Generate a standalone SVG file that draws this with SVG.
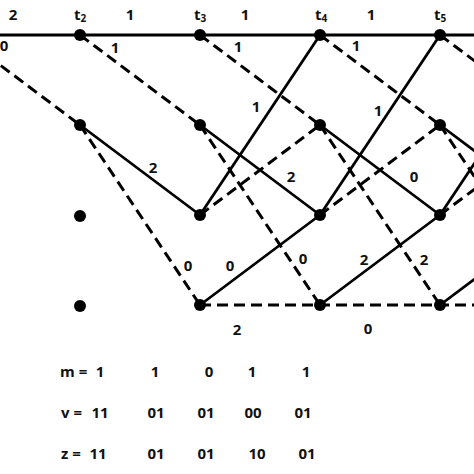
<svg xmlns="http://www.w3.org/2000/svg" width="474" height="474" viewBox="0 0 474 474">
<style>
.s{stroke:#000;stroke-width:2.8;fill:none}
.d{stroke:#000;stroke-width:3;fill:none;stroke-dasharray:11 6}
.n{fill:#000}
text{font-family:"Open Sans","Liberation Sans",sans-serif;font-weight:bold;font-size:15px;fill:#111;text-anchor:middle}
.l{text-anchor:start}
.sub{font-size:10px}
</style>
<rect width="474" height="474" fill="#fff"/>
<g id="connectors">
<line class="s" x1="-40" y1="35" x2="560" y2="35"/>
<line class="d" x1="-40" y1="35" x2="80" y2="125"/>
<line class="d" x1="80" y1="35" x2="200" y2="125"/>
<line class="d" x1="200" y1="35" x2="320" y2="125"/>
<line class="d" x1="320" y1="35" x2="440" y2="125"/>
<line class="d" x1="440" y1="35" x2="560" y2="125"/>
<line class="s" x1="80" y1="125" x2="200" y2="215"/>
<line class="s" x1="200" y1="125" x2="320" y2="215"/>
<line class="s" x1="320" y1="125" x2="440" y2="215"/>
<line class="s" x1="440" y1="125" x2="560" y2="215"/>
<line class="d" x1="80" y1="125" x2="200" y2="305"/>
<line class="d" x1="200" y1="125" x2="320" y2="305"/>
<line class="d" x1="320" y1="125" x2="440" y2="305"/>
<line class="d" x1="440" y1="125" x2="560" y2="305"/>
<line class="s" x1="200" y1="215" x2="320" y2="35"/>
<line class="s" x1="320" y1="215" x2="440" y2="35"/>
<line class="s" x1="440" y1="215" x2="560" y2="35"/>
<line class="d" x1="200" y1="215" x2="320" y2="125"/>
<line class="d" x1="320" y1="215" x2="440" y2="125"/>
<line class="d" x1="440" y1="215" x2="560" y2="125"/>
<line class="s" x1="200" y1="305" x2="320" y2="215"/>
<line class="s" x1="320" y1="305" x2="440" y2="215"/>
<line class="s" x1="440" y1="305" x2="560" y2="215"/>
<line class="d" x1="200" y1="305" x2="560" y2="305"/>
</g>
<g id="edge-labels">
<text x="13" y="20">2</text>
<text x="130" y="20">1</text>
<text x="245" y="20">1</text>
<text x="371" y="20">1</text>
<text x="4" y="51">0</text>
<text x="115" y="53">1</text>
<text x="238" y="52">1</text>
<text x="356" y="51">1</text>
<text x="256" y="112">1</text>
<text x="378" y="116">1</text>
<text x="153" y="173">2</text>
<text x="291" y="182">2</text>
<text x="414" y="182">0</text>
<text x="188" y="271">0</text>
<text x="230" y="271">0</text>
<text x="303" y="264">0</text>
<text x="364" y="265">2</text>
<text x="424" y="265">2</text>
<text x="237" y="335">2</text>
<text x="368" y="334">0</text>
</g>
<g id="time-labels">
<text x="80" y="20">t<tspan class="sub" dy="2">2</tspan></text>
<text x="200" y="20">t<tspan class="sub" dy="2">3</tspan></text>
<text x="321" y="20">t<tspan class="sub" dy="2">4</tspan></text>
<text x="440" y="20">t<tspan class="sub" dy="2">5</tspan></text>
</g>
<g id="n-t2-0"><circle class="n" cx="80" cy="35" r="6"/></g>
<g id="n-t2-1"><circle class="n" cx="80" cy="125" r="6"/></g>
<g id="n-t2-2"><circle class="n" cx="80" cy="216" r="6"/></g>
<g id="n-t2-3"><circle class="n" cx="80" cy="306" r="6"/></g>
<g id="n-t3-0"><circle class="n" cx="200" cy="35" r="6"/></g>
<g id="n-t3-1"><circle class="n" cx="200" cy="125" r="6"/></g>
<g id="n-t3-2"><circle class="n" cx="200" cy="215" r="6"/></g>
<g id="n-t3-3"><circle class="n" cx="200" cy="305" r="6"/></g>
<g id="n-t4-0"><circle class="n" cx="320" cy="35" r="6"/></g>
<g id="n-t4-1"><circle class="n" cx="320" cy="125" r="6"/></g>
<g id="n-t4-2"><circle class="n" cx="320" cy="215" r="6"/></g>
<g id="n-t4-3"><circle class="n" cx="320" cy="305" r="6"/></g>
<g id="n-t5-0"><circle class="n" cx="440" cy="35" r="6"/></g>
<g id="n-t5-1"><circle class="n" cx="440" cy="125" r="6"/></g>
<g id="n-t5-2"><circle class="n" cx="440" cy="215" r="6"/></g>
<g id="n-t5-3"><circle class="n" cx="440" cy="305" r="6"/></g>
<g id="sequences">
<text class="l" x="60" y="377">m =</text>
<text x="100" y="377">1</text>
<text x="155" y="377">1</text>
<text x="209" y="377">0</text>
<text x="252" y="377">1</text>
<text x="306" y="377">1</text>
<text class="l" x="61" y="418">v  =</text>
<text x="100" y="418">11</text>
<text x="156" y="418">01</text>
<text x="206" y="418">01</text>
<text x="253" y="418">00</text>
<text x="303" y="418">01</text>
<text class="l" x="61" y="459">z  =</text>
<text x="98" y="459">11</text>
<text x="156" y="459">01</text>
<text x="206" y="459">01</text>
<text x="257" y="459">10</text>
<text x="307" y="459">01</text>
</g>
</svg>
